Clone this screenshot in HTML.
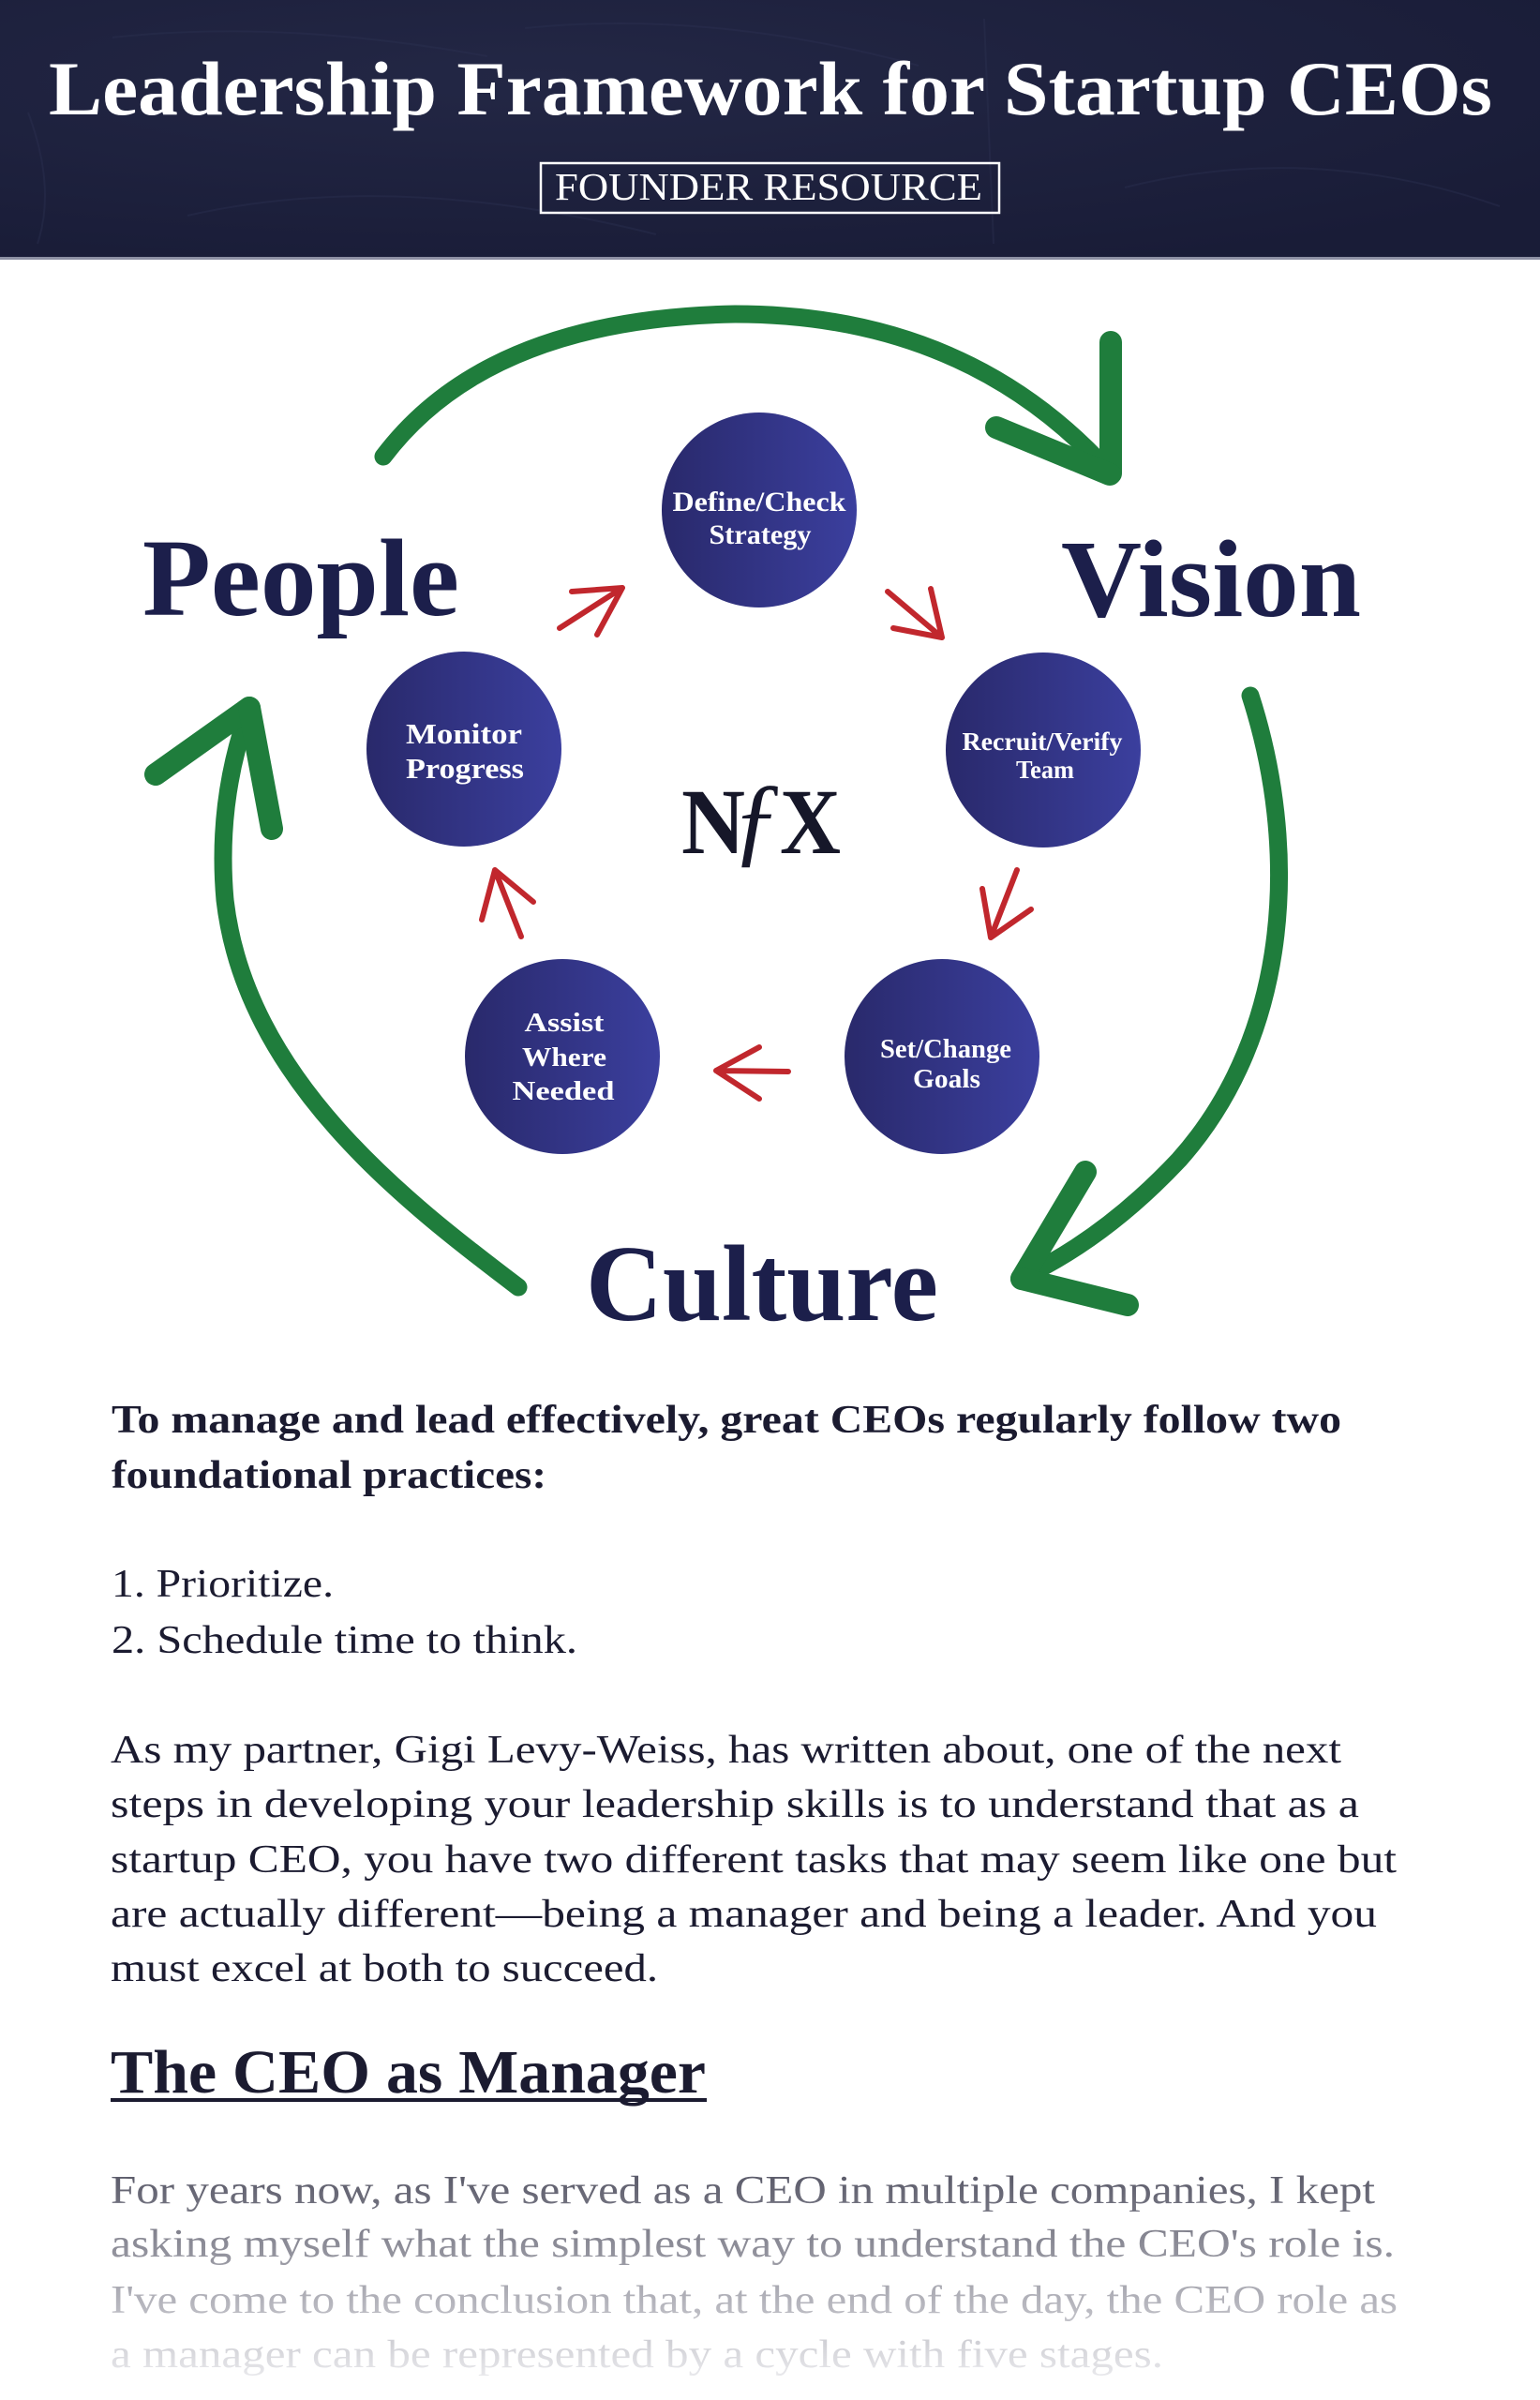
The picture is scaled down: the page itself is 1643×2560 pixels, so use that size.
<!DOCTYPE html>
<html>
<head>
<meta charset="utf-8">
<style>
  html, body { margin: 0; padding: 0; background: #ffffff; }
  body { width: 1643px; height: 2560px; overflow: hidden; }
  svg { display: block; }
  text { font-family: "Liberation Serif", "DejaVu Serif", serif; }
</style>
</head>
<body>
<svg width="1643" height="2560" viewBox="0 0 1643 2560" xmlns="http://www.w3.org/2000/svg">
  <defs>
    <linearGradient id="cg" x1="0" y1="0" x2="1" y2="0">
      <stop offset="0" stop-color="#29296b"/>
      <stop offset="1" stop-color="#3b3f9e"/>
    </linearGradient>
    <linearGradient id="fade" gradientUnits="userSpaceOnUse" x1="0" y1="2318" x2="0" y2="2540">
      <stop offset="0" stop-color="#5a5a69"/>
      <stop offset="1" stop-color="#ececef"/>
    </linearGradient>
    <radialGradient id="hdr" cx="0.35" cy="0.3" r="0.8">
      <stop offset="0" stop-color="#232745"/>
      <stop offset="1" stop-color="#191c37"/>
    </radialGradient>
  </defs>

  <rect x="0" y="0" width="1643" height="2560" fill="#ffffff"/>

  <!-- Header -->
  <rect x="0" y="0" width="1643" height="276" fill="url(#hdr)"/>
  <g stroke="#2c3152" stroke-width="2" fill="none" opacity="0.4">
    <path d="M120 40 Q300 20 520 60"/>
    <path d="M560 30 Q760 10 980 70"/>
    <path d="M200 230 Q420 180 700 250"/>
    <path d="M1050 20 L1060 260"/>
    <path d="M30 120 Q60 200 40 260"/>
    <path d="M1200 200 Q1400 150 1600 220"/>
  </g>
  <rect x="0" y="274" width="1643" height="3" fill="#8c8fa3"/>

  <text x="822" y="122" text-anchor="middle" font-size="82" font-weight="bold" fill="#ffffff" textLength="1540" lengthAdjust="spacingAndGlyphs">Leadership Framework for Startup CEOs</text>

  <rect x="577" y="174" width="489" height="53" fill="none" stroke="#ffffff" stroke-width="2.5"/>
  <text x="820" y="213" text-anchor="middle" font-size="41" fill="#ffffff" textLength="456" lengthAdjust="spacingAndGlyphs">FOUNDER RESOURCE</text>

  <!-- Green arcs -->
  <g fill="none" stroke="#1f7d3c" stroke-linecap="round" stroke-linejoin="round">
    <!-- top arc -->
    <path d="M409 487 Q520 340 784 335 Q1030 335 1182 502" stroke-width="19"/>
    <path d="M1185 365 L1185 505" stroke-width="24"/>
    <path d="M1063 456 L1184 506" stroke-width="24"/>
    <!-- right arc -->
    <path d="M1334 742 C1385 900 1380 1100 1258 1237 Q1180 1320 1092 1362" stroke-width="19"/>
    <path d="M1158 1250 L1090 1364" stroke-width="24"/>
    <path d="M1090 1364 L1203 1392" stroke-width="24"/>
    <!-- left arc -->
    <path d="M553 1373 C430 1280 262 1150 240 960 C232 870 250 800 266 756" stroke-width="19"/>
    <path d="M266 755 L166 826" stroke-width="24"/>
    <path d="M266 755 L290 884" stroke-width="24"/>
  </g>

  <!-- Red arrows -->
  <g fill="none" stroke="#c1272d" stroke-width="6" stroke-linecap="round" stroke-linejoin="round">
    <path d="M597 670 L664 627 M610 631 L664 627 M637 677 L664 627"/>
    <path d="M947 631 L1005 680 M993 628 L1005 680 M953 670 L1005 680"/>
    <path d="M1085 928 L1057 1000 M1048 948 L1057 1000 M1100 970 L1057 1000"/>
    <path d="M841 1143 L764 1142 M810 1117 L764 1142 M810 1172 L764 1142"/>
    <path d="M556 999 L528 928 M514 981 L528 928 M569 962 L528 928"/>
  </g>

  <!-- Circles -->
  <g fill="url(#cg)">
    <circle cx="810" cy="544" r="104"/>
    <circle cx="495" cy="799" r="104"/>
    <circle cx="1113" cy="800" r="104"/>
    <circle cx="600" cy="1127" r="104"/>
    <circle cx="1005" cy="1127" r="104"/>
  </g>

  <g fill="#ffffff" font-weight="bold" text-anchor="middle">
    <text x="810" y="545" font-size="30" textLength="185" lengthAdjust="spacingAndGlyphs">Define/Check</text>
    <text x="811" y="580" font-size="30" textLength="109" lengthAdjust="spacingAndGlyphs">Strategy</text>

    <text x="495" y="793" font-size="31" textLength="124" lengthAdjust="spacingAndGlyphs">Monitor</text>
    <text x="496" y="830" font-size="31" textLength="126" lengthAdjust="spacingAndGlyphs">Progress</text>

    <text x="1112" y="800" font-size="27" textLength="171" lengthAdjust="spacingAndGlyphs">Recruit/Verify</text>
    <text x="1115" y="830" font-size="27" textLength="62" lengthAdjust="spacingAndGlyphs">Team</text>

    <text x="602" y="1100" font-size="29" textLength="85" lengthAdjust="spacingAndGlyphs">Assist</text>
    <text x="602" y="1137" font-size="29" textLength="90" lengthAdjust="spacingAndGlyphs">Where</text>
    <text x="601" y="1173" font-size="29" textLength="109" lengthAdjust="spacingAndGlyphs">Needed</text>

    <text x="1009" y="1128" font-size="28" textLength="140" lengthAdjust="spacingAndGlyphs">Set/Change</text>
    <text x="1010" y="1160" font-size="28" textLength="72" lengthAdjust="spacingAndGlyphs">Goals</text>
  </g>

  <!-- Big labels -->
  <g fill="#1c1f4b" font-weight="bold">
    <text x="152" y="656" font-size="118" textLength="338" lengthAdjust="spacingAndGlyphs">People</text>
    <text x="1132" y="657" font-size="118" textLength="320" lengthAdjust="spacingAndGlyphs">Vision</text>
    <text x="625" y="1408" font-size="116" textLength="376" lengthAdjust="spacingAndGlyphs">Culture</text>
  </g>

  <!-- NfX logo -->
  <g fill="#161729">
    <text x="727" y="910" font-size="100" font-weight="bold" textLength="68" lengthAdjust="spacingAndGlyphs">N</text>
    <text x="780" y="910" font-size="108" font-style="italic">ƒ</text>
    <text x="832" y="910" font-size="100" font-weight="bold" textLength="65" lengthAdjust="spacingAndGlyphs">X</text>
  </g>

  <!-- Body text -->
  <g fill="#1b1b30">
    <text x="119" y="1528" font-size="42" font-weight="bold" textLength="1312" lengthAdjust="spacingAndGlyphs">To manage and lead effectively, great CEOs regularly follow two</text>
    <text x="119" y="1587" font-size="42" font-weight="bold" textLength="464" lengthAdjust="spacingAndGlyphs">foundational practices:</text>

    <text x="119" y="1703" font-size="42" textLength="237" lengthAdjust="spacingAndGlyphs">1. Prioritize.</text>
    <text x="119" y="1763" font-size="42" textLength="497" lengthAdjust="spacingAndGlyphs">2. Schedule time to think.</text>

    <text x="118" y="1880" font-size="42" textLength="1313" lengthAdjust="spacingAndGlyphs">As my partner, Gigi Levy-Weiss, has written about, one of the next</text>
    <text x="118" y="1938" font-size="42" textLength="1332" lengthAdjust="spacingAndGlyphs">steps in developing your leadership skills is to understand that as a</text>
    <text x="118" y="1997" font-size="42" textLength="1372" lengthAdjust="spacingAndGlyphs">startup CEO, you have two different tasks that may seem like one but</text>
    <text x="118" y="2055" font-size="42" textLength="1351" lengthAdjust="spacingAndGlyphs">are actually different—being a manager and being a leader. And you</text>
    <text x="118" y="2113" font-size="42" textLength="584" lengthAdjust="spacingAndGlyphs">must excel at both to succeed.</text>

    <text x="118" y="2232" font-size="66" font-weight="bold" textLength="635" lengthAdjust="spacingAndGlyphs">The CEO as Manager</text>
    <rect x="118" y="2238" width="636" height="4"/>
  </g>

  <g fill="url(#fade)">
    <text x="118" y="2350" font-size="42" textLength="1349" lengthAdjust="spacingAndGlyphs">For years now, as I've served as a CEO in multiple companies, I kept</text>
    <text x="118" y="2407" font-size="42" textLength="1370" lengthAdjust="spacingAndGlyphs">asking myself what the simplest way to understand the CEO's role is.</text>
    <text x="118" y="2467" font-size="42" textLength="1373" lengthAdjust="spacingAndGlyphs">I've come to the conclusion that, at the end of the day, the CEO role as</text>
    <text x="118" y="2525" font-size="42" textLength="1123" lengthAdjust="spacingAndGlyphs">a manager can be represented by a cycle with five stages.</text>
  </g>
</svg>
</body>
</html>
